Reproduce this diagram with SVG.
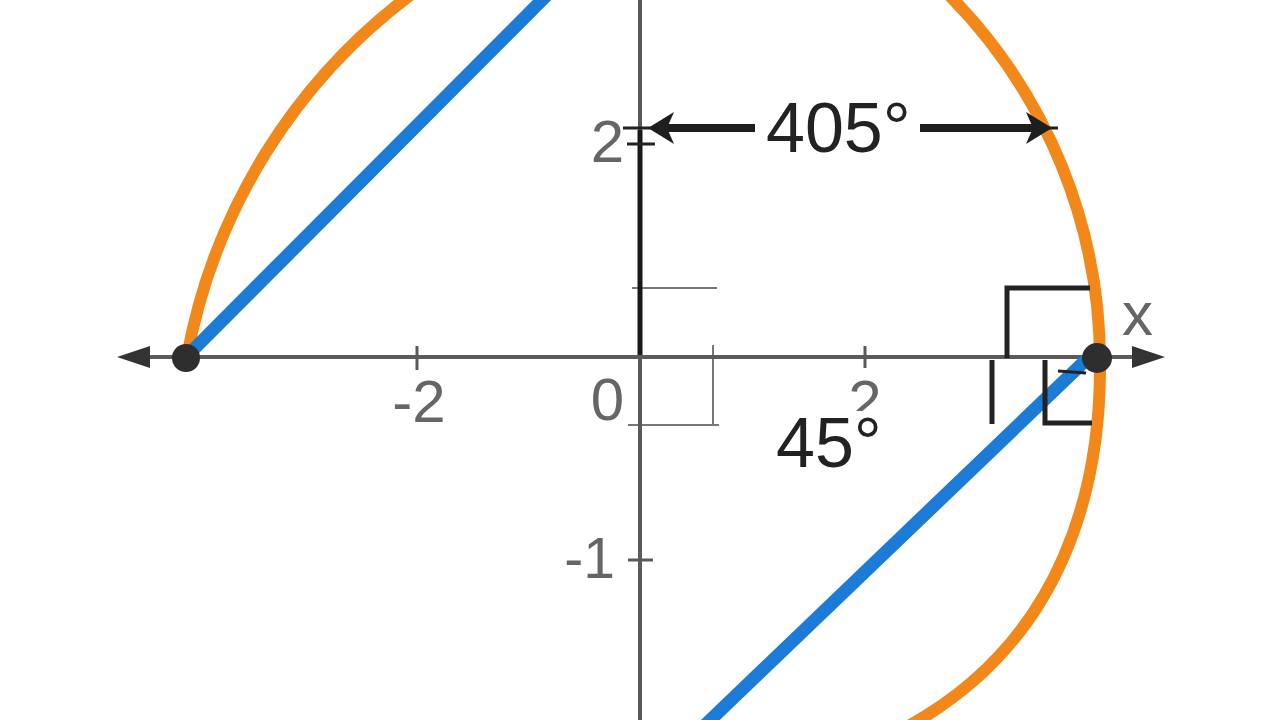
<svg xmlns="http://www.w3.org/2000/svg" width="1280" height="720" viewBox="0 0 1280 720">
<style>
.axis{stroke:#5a5a5a;stroke-width:4;fill:none}
.tick{stroke:#5a5a5a;stroke-width:3;fill:none}
.thin{stroke:#777;stroke-width:2;fill:none}
.mark{stroke:#222;stroke-width:5;fill:none}
.orange{stroke:#f2871a;stroke-width:12;fill:none}
.blue{stroke:#1c7bd6;stroke-width:13;fill:none}
.dim{stroke:#1e1e1e;stroke-width:8;fill:none}
.lbl{font-family:"Liberation Sans",Arial,sans-serif;fill:#666}
.big{font-family:"Liberation Sans",Arial,sans-serif;fill:#222;font-size:70px}
</style>
<defs>
<marker id="axh" markerUnits="userSpaceOnUse" orient="auto-start-reverse" overflow="visible" markerWidth="1" markerHeight="1" refX="0" refY="0">
<path d="M33,0 L0,-11 L0,11 Z" fill="#333"/>
</marker>
<marker id="ah" markerUnits="userSpaceOnUse" orient="auto" overflow="visible" markerWidth="1" markerHeight="1" refX="0" refY="0">
<path d="M14,0 L-12,-16 L-5,0 L-12,16 Z" fill="#1e1e1e"/>
</marker>
</defs>
<rect width="1280" height="720" fill="#fff"/>
<g id="grid-remnants">
<path class="thin" d="M632,288 H717 M713,345 V425 M628,425 H719"/>
</g>
<g id="axes">
<line class="axis" x1="640" y1="0" x2="640" y2="720"/>
<line x1="640" y1="130" x2="640" y2="356" stroke="#1a1a1a" stroke-width="5"/>
<line class="axis" x1="150" y1="357" x2="1132" y2="357" marker-start="url(#axh)" marker-end="url(#axh)"/>
<path class="tick" d="M417,346 V370 M865,346 V368 M628,560 H653"/>
<path d="M623,128 H655 M627,144 H655" stroke="#222" stroke-width="3" fill="none"/>
</g>
<g id="curves">
<path class="orange" d="M417,-10 A584,584 0 0 0 187,357"/>
<path class="orange" d="M949,-5 A522,522 0 0 1 1100,368 C1100,480 1068,640 905,728"/>
<line class="blue" x1="187" y1="356" x2="552" y2="-10"/>
<line class="blue" x1="1086" y1="360" x2="702" y2="728"/>
</g>
<g id="right-angle-marks">
<path class="mark" d="M1007,358 V288 H1090"/>
<path class="mark" d="M992,360 V424"/>
<path class="mark" d="M1045,360 V423 H1092"/>
<path d="M1058,371 L1086,373" stroke="#222" stroke-width="3" fill="none"/>
</g>
<g id="points">
<circle cx="186" cy="358" r="14" fill="#2e2e2e"/>
<circle cx="1097" cy="358" r="15" fill="#2e2e2e"/>
</g>
<g id="dimension-405">
<line class="dim" x1="755" y1="128" x2="662" y2="128" marker-end="url(#ah)"/>
<line class="dim" x1="920" y1="128" x2="1038" y2="128" marker-end="url(#ah)"/>
<line x1="1040" y1="128" x2="1058" y2="128" stroke="#1e1e1e" stroke-width="3"/>
<text class="big" x="766" y="152">405°</text>
</g>
<g id="tick-labels">
<text class="lbl" x="624" y="162" font-size="60" text-anchor="end">2</text>
<text class="lbl" x="624" y="420" font-size="60" text-anchor="end">0</text>
<text class="lbl" x="419" y="422" font-size="60" text-anchor="middle">-2</text>
<text class="lbl" x="615" y="578" font-size="57" text-anchor="end">-1</text>
<text class="lbl" x="865" y="422" font-size="60" text-anchor="middle">2</text>
<rect x="840" y="411" width="50" height="16" fill="#fff"/>
<text class="lbl" x="1122" y="335" font-size="62">x</text>
</g>
<g id="angle-45">
<text class="big" x="776" y="467">45°</text>
</g>
</svg>
